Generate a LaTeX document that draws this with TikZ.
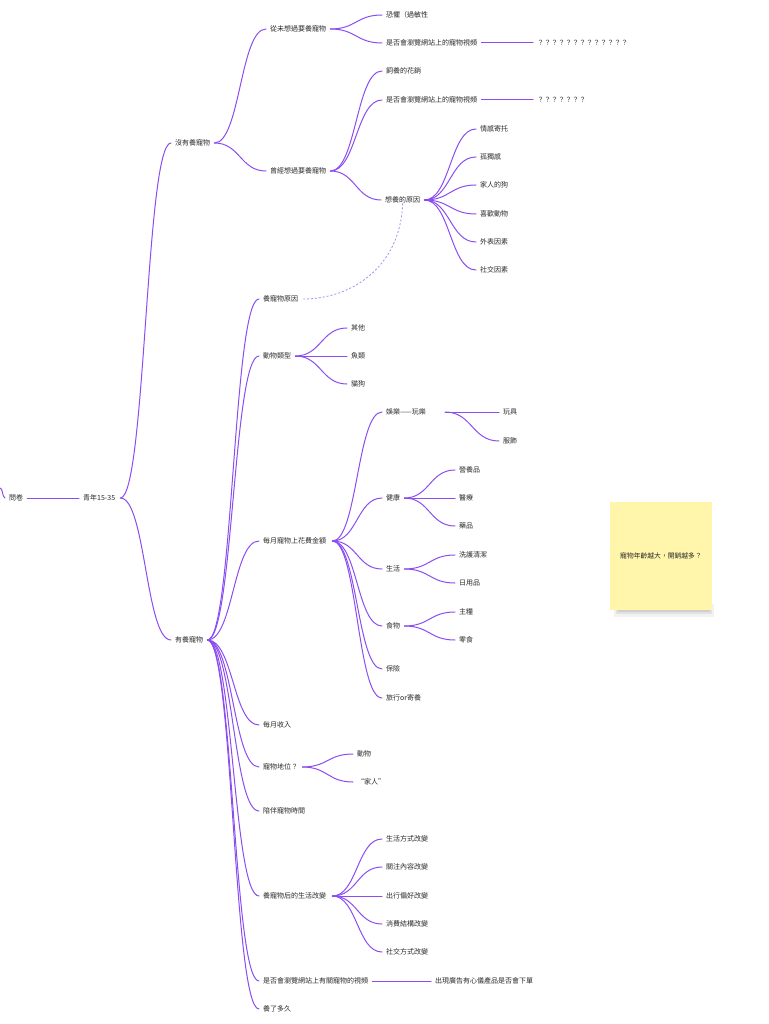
\documentclass[tikz,border=0pt]{standalone}
\usepackage{fontspec}
\setmainfont{Noto Sans CJK TC}
\usetikzlibrary{calc}
\definecolor{mmpurple}{RGB}{139,77,240}
\definecolor{mmdash}{RGB}{170,135,250}
\definecolor{mmtext}{RGB}{40,40,40}
\definecolor{notey}{RGB}{255,246,172}
\tikzset{
  t/.style={anchor=west,inner sep=0pt,text=mmtext,font=\fontsize{7}{8}\selectfont},
  mmline/.style={draw=mmpurple,line width=1pt,line cap=round},
  dlink/.style={draw=mmdash,line width=0.8pt,dash pattern=on 2pt off 2pt},
  note/.style={fill=notey,minimum width=102pt,minimum height=108pt,inner sep=0pt,text=mmtext,font=\fontsize{6.8}{8}\selectfont}
}
\newcommand\mmedge[3][4pt]{%
  \path ([xshift=#1]#2.east) coordinate (ea) ([xshift=-4pt]#3.west) coordinate (eb);
  \path ($(ea)!0.5!(eb)$) coordinate (em);
  \draw[mmline] (ea) .. controls (em |- ea) and (em |- eb) .. (eb);}
\begin{document}
\begin{tikzpicture}[x=1pt,y=-1pt]
\useasboundingbox (0,0) rectangle (768,1024);
% nodes
\node[t] (root) at (9,498) {問卷};
\node[t] (youth) at (83,498) {青年15-35};
\node[t] (no) at (175,143) {沒有養寵物};
\node[t] (yes) at (175,640) {有養寵物};
\node[t] (never) at (270,29) {從未想過要養寵物};
\node[t] (fear) at (386,15) {恐懼（過敏性};
\node[t] (nbrowse) at (386,43) {是否會瀏覽網站上的寵物視頻};
\node[t] (nq) at (537,43) {？？？？？？？？？？？？？};
\node[t] (once) at (270,171) {曾經想過要養寵物};
\node[t] (cost) at (386,71) {飼養的花銷};
\node[t] (obrowse) at (386,100) {是否會瀏覽網站上的寵物視頻};
\node[t] (oq) at (537,100) {？？？？？？？};
\node[t] (why) at (385,200) {想養的原因};
\node[t] (r1) at (480,129) {情感寄托};
\node[t] (r2) at (480,157) {孤獨感};
\node[t] (r3) at (480,185) {家人的狗};
\node[t] (r4) at (480,214) {喜歡動物};
\node[t] (r5) at (480,242) {外表因素};
\node[t] (r6) at (480,270) {社交因素};
\node[t] (yreason) at (263,299) {養寵物原因};
\node[t] (type) at (263,356) {動物類型};
\node[t] (t1) at (351,328) {其他};
\node[t] (t2) at (351,356) {魚類};
\node[t] (t3) at (351,384) {貓狗};
\node[t] (spend) at (263,541) {每月寵物上花費金額};
\node[t] (fun) at (386,412) {娛樂——玩樂};
\node[t] (fun1) at (503,412) {玩具};
\node[t] (fun2) at (503,441) {服飾};
\node[t] (health) at (386,498) {健康};
\node[t] (h1) at (459,470) {營養品};
\node[t] (h2) at (459,498) {醫療};
\node[t] (h3) at (459,526) {藥品};
\node[t] (life) at (386,569) {生活};
\node[t] (l1) at (459,555) {洗護清潔};
\node[t] (l2) at (459,583) {日用品};
\node[t] (food) at (386,626) {食物};
\node[t] (f1) at (459,612) {主糧};
\node[t] (f2) at (459,640) {零食};
\node[t] (ins) at (386,669) {保險};
\node[t] (travel) at (386,698) {旅行or寄養};
\node[t] (income) at (263,725) {每月收入};
\node[t] (status) at (263,767) {寵物地位？};
\node[t] (s1) at (357,754) {動物};
\node[t] (s2) at (357,782) {“家人”};
\node[t] (comp) at (263,811) {陪伴寵物時間};
\node[t] (change) at (263,896) {養寵物后的生活改變};
\node[t] (c1) at (386,839) {生活方式改變};
\node[t] (c2) at (386,867) {關注內容改變};
\node[t] (c3) at (386,896) {出行偏好改變};
\node[t] (c4) at (386,924) {消費結構改變};
\node[t] (c5) at (386,952) {社交方式改變};
\node[t] (ybrowse) at (263,981) {是否會瀏覽網站上有關寵物的視頻};
\node[t] (ad) at (435,981) {出現廣告有心儀產品是否會下單};
\node[t] (howlong) at (263,1009) {養了多久};
% sticky note
\fill[black,opacity=0.05] (614,604) rectangle (714,617);
\fill[black,opacity=0.07] (616,604) rectangle (712,614);
\fill[black,opacity=0.08] (618,604) rectangle (710,612);
\node[note] (memo) at (661,556) {寵物年齡越大，開銷越多？};
% connectors
\coordinate (incoming) at (0,488);
\draw[mmline] (incoming) .. controls (3,488) and (2,497) .. ([xshift=-4pt]root.west);
\mmedge{root}{youth}
\mmedge[5pt]{youth}{no}
\mmedge[5pt]{youth}{yes}
\mmedge{no}{never}
\mmedge{no}{once}
\mmedge{never}{fear}
\mmedge{never}{nbrowse}
\mmedge{nbrowse}{nq}
\mmedge{once}{cost}
\mmedge{once}{obrowse}
\mmedge{obrowse}{oq}
\mmedge{once}{why}
\foreach \r in {r1,r2,r3,r4,r5,r6}{\mmedge{why}{\r}}
\draw[dlink] ([yshift=4pt]why.south) .. controls +(0,65) and +(50,0) .. ([xshift=5pt]yreason.east);
\foreach \c in {yreason,type,spend,income,status,comp,change,ybrowse,howlong}{\mmedge{yes}{\c}}
\foreach \c in {t1,t2,t3}{\mmedge{type}{\c}}
\foreach \c in {fun,health,life,food,ins,travel}{\mmedge[6pt]{spend}{\c}}
\mmedge[19pt]{fun}{fun1}
\mmedge[19pt]{fun}{fun2}
\foreach \c in {h1,h2,h3}{\mmedge{health}{\c}}
\foreach \c in {l1,l2}{\mmedge{life}{\c}}
\foreach \c in {f1,f2}{\mmedge{food}{\c}}
\foreach \c in {s1,s2}{\mmedge{status}{\c}}
\foreach \c in {c1,c2,c3,c4,c5}{\mmedge[6pt]{change}{\c}}
\mmedge{ybrowse}{ad}
\end{tikzpicture}
\end{document}
